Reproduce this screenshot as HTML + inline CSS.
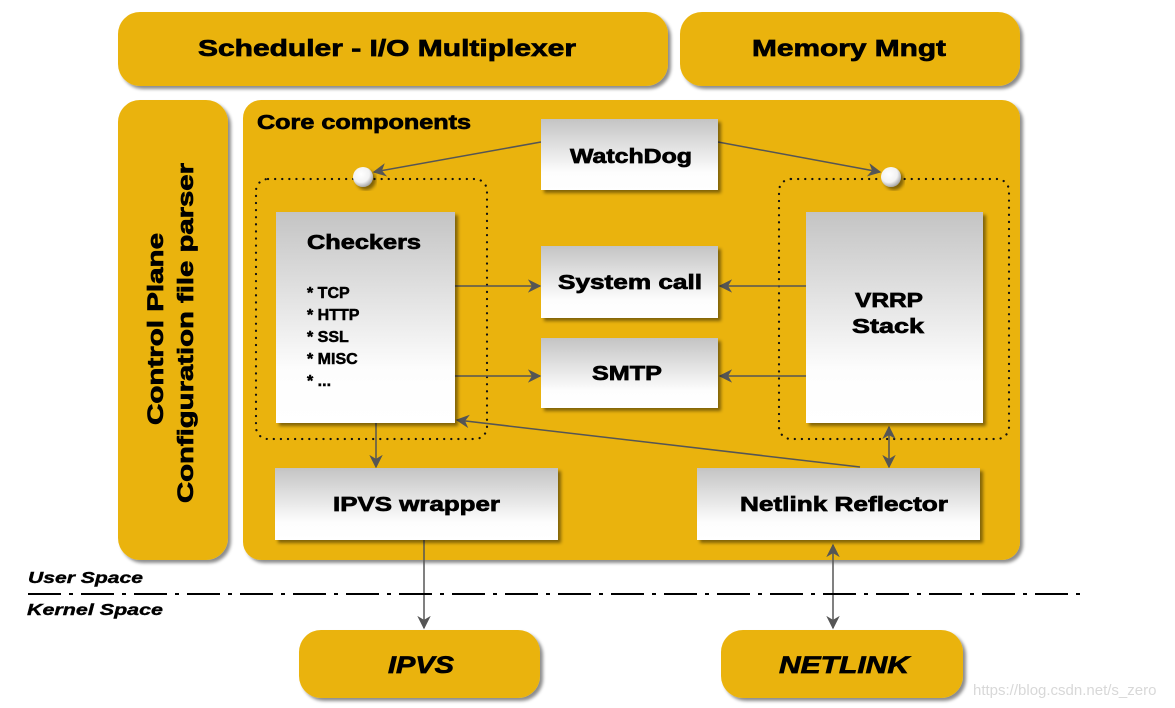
<!DOCTYPE html>
<html><head><meta charset="utf-8"><style>
html,body{margin:0;padding:0;background:#fff;}
svg{display:block;}
text{font-family:"Liberation Sans",Arial,sans-serif;font-weight:bold;fill:#000;}
.t{stroke:#000;stroke-width:0.7;}
</style></head><body>
<svg width="1175" height="708" viewBox="0 0 1175 708" xmlns="http://www.w3.org/2000/svg">
<defs>
<linearGradient id="g" x1="0" y1="0" x2="0" y2="1">
<stop offset="0" stop-color="#c4c4c4"/><stop offset="0.75" stop-color="#fdfdfd"/><stop offset="1" stop-color="#ffffff"/>
</linearGradient>
<radialGradient id="ball" cx="0.4" cy="0.35" r="0.7">
<stop offset="0" stop-color="#fff"/><stop offset="0.6" stop-color="#f2f2f2"/><stop offset="1" stop-color="#9a9a9a"/>
</radialGradient>
<filter id="sh" x="-10%" y="-10%" width="130%" height="130%">
<feDropShadow dx="3" dy="3" stdDeviation="1.5" flood-color="#000" flood-opacity="0.45"/>
</filter>
<marker id="ah" viewBox="0 0 10 10" refX="9" refY="5" markerWidth="9" markerHeight="9" orient="auto-start-reverse">
<path d="M0,0 L10,5 L0,10 L3,5 Z" fill="#555"/>
</marker>
</defs>

<g fill="#eab30b" filter="url(#sh)">
<rect x="118" y="12" width="550" height="74" rx="22"/>
<rect x="680" y="12" width="340" height="74" rx="22"/>
<rect x="118" y="100" width="110" height="460" rx="22"/>
<rect x="243" y="100" width="777" height="460" rx="18"/>
<rect x="299" y="630" width="241" height="68" rx="22"/>
<rect x="721" y="630" width="242" height="68" rx="22"/>
</g>

<g class="t">
<text x="198" y="56" font-size="23" textLength="378" lengthAdjust="spacingAndGlyphs">Scheduler - I/O Multiplexer</text>
<text x="752" y="56" font-size="23" textLength="194" lengthAdjust="spacingAndGlyphs">Memory Mngt</text>
<text x="257" y="129" font-size="20" textLength="214" lengthAdjust="spacingAndGlyphs">Core components</text>
<text transform="translate(163,425) rotate(-90)" font-size="22" textLength="192" lengthAdjust="spacingAndGlyphs">Control Plane</text>
<text transform="translate(193,503) rotate(-90)" font-size="22" textLength="340" lengthAdjust="spacingAndGlyphs">Configuration file parser</text>
</g>

<g fill="none" stroke="#111" stroke-width="2.2" stroke-dasharray="0.1 7" stroke-linecap="round">
<rect x="256" y="179" width="231" height="260" rx="12"/>
<rect x="779" y="179" width="230" height="260" rx="12"/>
</g>

<g stroke="#555" stroke-width="1.5" fill="none">
<line x1="541" y1="142" x2="374" y2="172" marker-end="url(#ah)"/>
<line x1="718" y1="142" x2="880" y2="172" marker-end="url(#ah)"/>
<line x1="455" y1="286" x2="540" y2="286" marker-end="url(#ah)"/>
<line x1="455" y1="376" x2="540" y2="376" marker-end="url(#ah)"/>
<line x1="806" y1="286" x2="720" y2="286" marker-end="url(#ah)"/>
<line x1="806" y1="376" x2="720" y2="376" marker-end="url(#ah)"/>
<line x1="860" y1="467" x2="457" y2="420" marker-end="url(#ah)"/>
<line x1="376" y1="423" x2="376" y2="467" marker-end="url(#ah)"/>
<line x1="889" y1="467" x2="889" y2="427" marker-start="url(#ah)" marker-end="url(#ah)"/>
<line x1="424" y1="540" x2="424" y2="628" marker-end="url(#ah)"/>
<line x1="833" y1="545" x2="833" y2="628" marker-start="url(#ah)" marker-end="url(#ah)"/>
</g>

<g fill="url(#g)" filter="url(#sh)">
<rect x="541" y="119" width="177" height="71"/>
<rect x="276" y="212" width="179" height="211"/>
<rect x="541" y="246" width="177" height="72"/>
<rect x="541" y="338" width="177" height="70"/>
<rect x="806" y="212" width="177" height="211"/>
<rect x="275" y="468" width="283" height="72"/>
<rect x="697" y="468" width="283" height="72"/>
</g>
<circle cx="363" cy="177" r="10" fill="url(#ball)" filter="url(#sh)"/>
<circle cx="891" cy="177" r="10" fill="url(#ball)" filter="url(#sh)"/>

<g class="t">
<text x="570" y="163" font-size="20" textLength="122" lengthAdjust="spacingAndGlyphs">WatchDog</text>
<text x="307" y="249" font-size="20" textLength="114" lengthAdjust="spacingAndGlyphs">Checkers</text>
<text x="558" y="289" font-size="20" textLength="144" lengthAdjust="spacingAndGlyphs">System call</text>
<text x="592" y="380" font-size="20" textLength="70" lengthAdjust="spacingAndGlyphs">SMTP</text>
<text x="855" y="307" font-size="20" textLength="68" lengthAdjust="spacingAndGlyphs">VRRP</text>
<text x="852" y="333" font-size="20" textLength="72" lengthAdjust="spacingAndGlyphs">Stack</text>
<text x="333" y="511" font-size="20" textLength="167" lengthAdjust="spacingAndGlyphs">IPVS wrapper</text>
<text x="740" y="511" font-size="20" textLength="208" lengthAdjust="spacingAndGlyphs">Netlink Reflector</text>
<text x="388" y="673" font-size="24" font-style="italic" textLength="66" lengthAdjust="spacingAndGlyphs">IPVS</text>
<text x="779" y="673" font-size="24" font-style="italic" textLength="130" lengthAdjust="spacingAndGlyphs">NETLINK</text>
</g>
<g font-size="16" class="t" style="stroke-width:0.5">
<text x="307" y="298">*  TCP</text>
<text x="307" y="320">*  HTTP</text>
<text x="307" y="342">*  SSL</text>
<text x="307" y="364">*  MISC</text>
<text x="307" y="386">*  ...</text>
</g>

<line x1="28" y1="594" x2="1086" y2="594" stroke="#000" stroke-width="2" stroke-dasharray="33 8 4 8"/>
<g class="t" style="stroke-width:0.4">
<text x="28" y="583" font-size="16" font-style="italic" textLength="115" lengthAdjust="spacingAndGlyphs">User Space</text>
<text x="27" y="615" font-size="16" font-style="italic" textLength="136" lengthAdjust="spacingAndGlyphs">Kernel Space</text>
</g>
<text x="973" y="695" font-size="15" style="font-weight:normal;fill:#d8d8d8">https://blog.csdn.net/s_zero</text>
</svg>
</body></html>
